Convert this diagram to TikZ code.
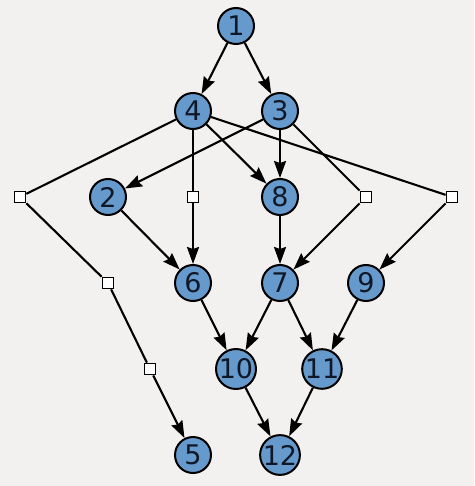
\documentclass[tikz,border=0pt]{standalone}
\usepackage{fontspec}
\setmainfont{DejaVu Sans}
\usetikzlibrary{arrows.meta}
\definecolor{bg}{HTML}{F2F1F0}
\definecolor{nodefill}{HTML}{6699CC}
\definecolor{txt}{HTML}{101828}
\begin{document}
\begin{tikzpicture}[x=1pt,y=-1pt,
  vnode/.style={circle,draw=black,line width=2pt,fill=nodefill,minimum size=36pt,inner sep=0pt,
    font=\fontsize{27}{27}\selectfont,text=txt},
  bendpt/.style={rectangle,draw=black,line width=1.8pt,fill=white,minimum size=11pt,inner sep=0pt},
  edgeline/.style={line width=2.1pt,draw=black},
  arr/.style={edgeline,-{Stealth[length=17pt,width=12pt,inset=2pt]}}]
\fill[bg] (0,0) rectangle (474,486);
\useasboundingbox (0,0) rectangle (474,486);
% bends
\node[bendpt] (b1) at (20,197) {};
\node[bendpt] (b2) at (108,283) {};
\node[bendpt] (b3) at (150,369) {};
\node[bendpt] (b4) at (193,197) {};
\node[bendpt] (b5) at (366,197) {};
\node[bendpt] (b6) at (452,197) {};
% nodes
\node[vnode] (n1) at (236,26) {1};
\node[vnode] (n4) at (193,111) {4};
\node[vnode] (n3) at (280,111) {3};
\node[vnode] (n2) at (108,197) {2};
\node[vnode] (n8) at (280,197) {8};
\node[vnode] (n6) at (193,283) {6};
\node[vnode] (n7) at (280,283) {7};
\node[vnode] (n9) at (366,283) {9};
\node[vnode] (n10) at (236,369) {10};
\node[vnode] (n11) at (322,369) {11};
\node[vnode] (n5) at (193,455) {5};
\node[vnode] (n12) at (280,455) {12};
% edges
\draw[arr] (n1) -- (n4);
\draw[arr] (n1) -- (n3);
\draw[arr] (n3) -- (n2);
\draw[edgeline] (n4) -- (b1);
\draw[edgeline] (b1) -- (b2);
\draw[edgeline] (b2) -- (b3);
\draw[arr] (b3) -- (n5);
\draw[edgeline] (n4) -- (b4);
\draw[arr] (b4) -- (n6);
\draw[arr] (n4) -- (n8);
\draw[edgeline] (n4) -- (b6);
\draw[arr] (b6) -- (n9);
\draw[arr] (n3) -- (n8);
\draw[edgeline] (n3) -- (b5);
\draw[arr] (b5) -- (n7);
\draw[arr] (n2) -- (n6);
\draw[arr] (n8) -- (n7);
\draw[arr] (n6) -- (n10);
\draw[arr] (n7) -- (n10);
\draw[arr] (n7) -- (n11);
\draw[arr] (n9) -- (n11);
\draw[arr] (n10) -- (n12);
\draw[arr] (n11) -- (n12);
\end{tikzpicture}
\end{document}
